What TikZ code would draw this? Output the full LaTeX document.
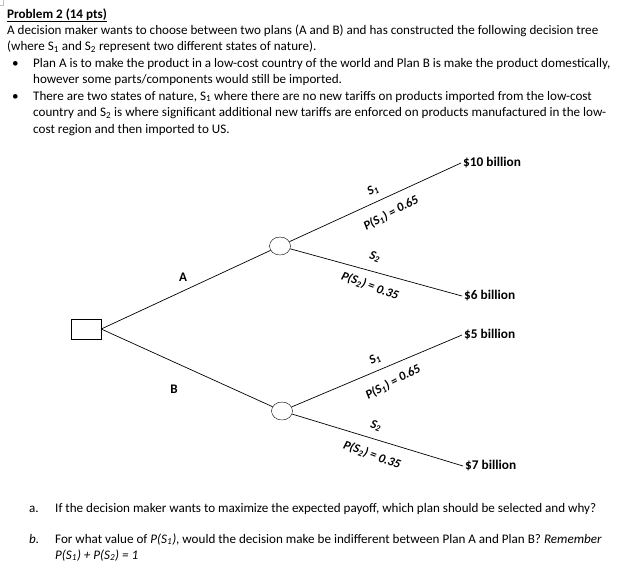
\documentclass[tikz,border=0pt]{standalone}
\usepackage{fontspec}
\setmainfont{Carlito}
\usetikzlibrary{calc,shapes.geometric}
\begin{document}
\begin{tikzpicture}[x=1pt,y=-1pt,
  txt/.style={anchor=base west,inner sep=0pt,font=\fontsize{13.1}{16.5}\selectfont},
  pay/.style={anchor=west,inner sep=2pt,font=\fontsize{13.3}{15}\selectfont\bfseries},
  plan/.style={inner sep=0pt,font=\fontsize{13.1}{15}\selectfont\bfseries},
  prob/.style={inner sep=0pt,font=\fontsize{12.6}{14}\selectfont\bfseries\itshape},
  chance/.style={draw,ellipse,minimum width=21pt,minimum height=18pt,inner sep=0pt},
  decision/.style={draw,rectangle,minimum width=30pt,minimum height=20pt,inner sep=0pt},
  edge/.style={draw,line width=0.7pt}]
\useasboundingbox (0,0) rectangle (618,574);
% page corner mark
\draw[gray!50,line width=0.5pt] (0,5) -- (3,5) -- (3,0);
% header text
\node[txt] (title) at (7,18) {\bfseries\underline{Problem 2 (14 pts)}};
\node[txt] (l2) at (7,34) {A decision maker wants to choose between two plans (A and B) and has constructed the following decision tree};
\node[txt] (l3) at (7,50.5) {(where S\textsubscript{1} and S\textsubscript{2} represent two different states of nature).};
\node[txt] (b1) at (12,67) {•};
\node[txt] (l4) at (33,67) {Plan A is to make the product in a low-cost country of the world and Plan B is make the product domestically,};
\node[txt] (l5) at (33,83.5) {however some parts/components would still be imported.};
\node[txt] (b2) at (12,100) {•};
\node[txt] (l6) at (33,100) {There are two states of nature, S\textsubscript{1} where there are no new tariffs on products imported from the low-cost};
\node[txt] (l7) at (33,116.5) {country and S\textsubscript{2} is where significant additional new tariffs are enforced on products manufactured in the low-};
\node[txt] (l8) at (33,133) {cost region and then imported to US.};
% tree
\node[decision] (dec) at (86,329) {};
\node[chance] (cA) at (280,246) {};
\node[chance] (cB) at (282,411) {};
\node[pay] (p10) at (461,163) {\$10 billion};
\node[pay] (p6) at (462,296) {\$6 billion};
\node[pay] (p5) at (462,335) {\$5 billion};
\node[pay] (p7) at (463,466) {\$7 billion};
\draw[edge] (dec.east) -- (cA);
\draw[edge] (dec.east) -- (cB);
\draw[edge] (cA) -- (p10.west);
\draw[edge] (cA) -- (p6.west);
\draw[edge] (cB) -- (p5.west);
\draw[edge] (cB) -- (p7.west);
\node[plan] (lA) at (183,277) {A};
\node[plan] (lB) at (174,389) {B};
\node[prob,rotate=26] (a1) at (373,190) {S\textsubscript{1}};
\node[prob,rotate=28] (a1p) at (391,213) {P(S\textsubscript{1}) = 0.65};
\node[prob,rotate=-18] (a2) at (375,257) {S\textsubscript{2}};
\node[prob,rotate=-20] (a2p) at (370,286) {P(S\textsubscript{2}) = 0.35};
\node[prob,rotate=26] (b1s) at (375,359) {S\textsubscript{1}};
\node[prob,rotate=28] (b1p) at (393,382) {P(S\textsubscript{1}) = 0.65};
\node[prob,rotate=-18] (b2s) at (376,426) {S\textsubscript{2}};
\node[prob,rotate=-20] (b2p) at (372,455) {P(S\textsubscript{2}) = 0.35};
% questions
\node[txt] (qa) at (29,512) {a.};
\node[txt] (qat) at (55,512) {If the decision maker wants to maximize the expected payoff, which plan should be selected and why?};
\node[txt] (qb) at (29,543) {\itshape b.};
\node[txt] (qbt) at (55,543) {For what value of \textit{P(S\textsubscript{1})}, would the decision make be indifferent between Plan A and Plan B? \textit{Remember}};
\node[txt] (qbt2) at (55,559) {\itshape P(S\textsubscript{1}) + P(S\textsubscript{2}) = 1};
\end{tikzpicture}
\end{document}
